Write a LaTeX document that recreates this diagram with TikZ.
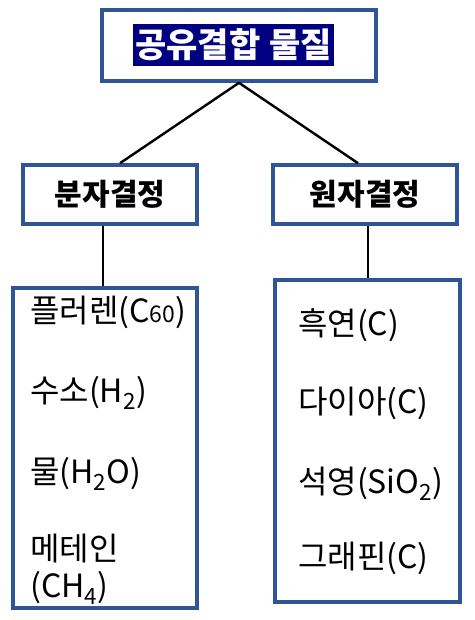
\documentclass[tikz,border=0pt]{standalone}
\usepackage{fontspec}
\setmainfont{Noto Sans CJK KR}
\usepackage{xcolor}
\usetikzlibrary{positioning,calc}

\definecolor{boxblue}{RGB}{47,85,151}
\definecolor{titlenavy}{RGB}{0,0,128}

\tikzset{
  framebox/.style={draw=boxblue, line width=3.6pt, fill=white, inner sep=0pt},
  headtext/.style={font=\fontsize{30}{32}\selectfont\bfseries},
  itemtext/.style={font=\fontsize{32}{34}\selectfont, anchor=base west, inner sep=0pt},
  link/.style={line width=2.4pt, black}
}

\begin{document}
\begin{tikzpicture}[x=1pt, y=-1pt]
  \useasboundingbox (0,0) rectangle (474,620);

  % top box
  \node[framebox, minimum width=274pt, minimum height=71pt] (top) at (239,45.5) {};
  \node[fill=titlenavy, text=white, font=\fontsize{34}{36}\selectfont\bfseries,
        inner xsep=2pt, inner ysep=4.5pt] (title) at (233.5,45) {공유결합\hspace{9pt}물질};

  % second level
  \node[framebox, headtext, minimum width=174pt, minimum height=59pt] (mol) at (110,194.5) {분자결정};
  \node[framebox, headtext, minimum width=184pt, minimum height=59pt] (atom) at (365,194.5) {원자결정};

  % lists
  \node[framebox, minimum width=184pt, minimum height=320pt] (mollist) at (105,448) {};
  \node[framebox, minimum width=185pt, minimum height=322pt] (atomlist) at (367.5,441) {};

  \draw[link] (top.south) -- ([xshift=10pt]mol.north);
  \draw[link] (top.south) -- ([xshift=-7pt]atom.north);
  \draw[link] ([xshift=-7pt]mol.south) -- ([xshift=-2pt]mollist.north);
  \draw[link] ([xshift=3pt]atom.south) -- ([xshift=0.5pt]atomlist.north);

  % molecular crystals
  \node[itemtext] (fullerene) at (30,322) {플러렌(C{\fontsize{23}{25}\selectfont 60})};
  \node[itemtext] (hydrogen) at (30,402) {수소(H\textsubscript{2})};
  \node[itemtext] (water) at (30,483) {물(H\textsubscript{2}O)};
  \node[itemtext] (methane) at (30,560) {메테인};
  \node[itemtext] (methaneform) at (30,597) {(CH\textsubscript{4})};

  % atomic crystals
  \node[itemtext] (graphite) at (298,335) {흑연(C)};
  \node[itemtext] (diamond) at (298,413) {다이아(C)};
  \node[itemtext] (quartz) at (298,493) {석영(SiO\textsubscript{2})};
  \node[itemtext] (graphene) at (298,568) {그래핀(C)};
\end{tikzpicture}
\end{document}
